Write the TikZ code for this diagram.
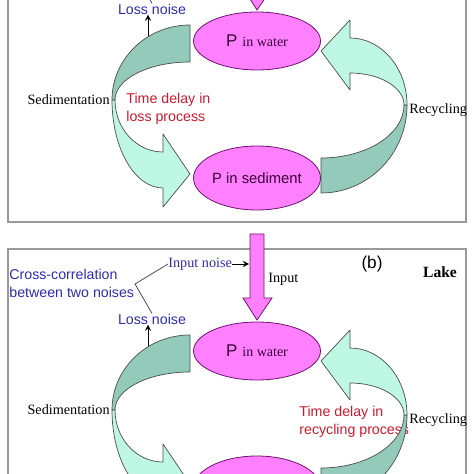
\documentclass[tikz,border=0pt]{standalone}
\usepackage{fontspec}
\setmainfont{Liberation Serif}
\setsansfont{Liberation Sans}
\usetikzlibrary{positioning,shapes.geometric}

\definecolor{pool}{RGB}{255,128,255}
\definecolor{poolline}{RGB}{110,20,110}
\definecolor{pooltext}{RGB}{55,0,55}
\definecolor{flowlight}{RGB}{190,247,228}
\definecolor{flowdark}{RGB}{148,202,186}
\definecolor{noiseblue}{RGB}{45,45,170}
\definecolor{delayred}{RGB}{205,25,45}

\begin{document}
\begin{tikzpicture}[x=0.5pt, y=-0.5pt,
					pool/.style={ellipse, draw=poolline, fill=pool, minimum width=63.5pt, inner sep=0pt, text=pooltext},
					flow/.style={draw=black!70, line width=0.35pt, line join=round},
					serif/.style={font=\fontsize{7.1}{8.5}\selectfont, inner sep=0pt},
					sans/.style={font=\sffamily\fontsize{7.1}{9}\selectfont, inner sep=0pt, align=left},
					frame/.style={draw=black!40, line width=0.8pt}
				]
				\useasboundingbox (0,0) rectangle (474,474);
				\clip (0,0) rectangle (474,474);
				% delay labels sit under the arrows
				\node[sans, text=delayred, anchor=west] (delayloss) at (126,109) {Time delay in\\loss process};
				\node[sans, text=delayred, anchor=west] (delayrecyc) at (299,422) {Time delay in\\recycling process};
				\foreach \dy in {0,310} {
				\begin{scope}[shift={(0,\dy)}]
				\draw[frame] (8,-61) rectangle (466,222);
				% input arrow
				\filldraw[draw=poolline, fill=pool, line width=0.4pt] (250,-76) -- (264,-76) -- (264,-12) -- (272,-12) -- (257,10) -- (243,-12) -- (250,-12) -- cycle;
				% pools
				\node[pool, minimum height=29pt] (water\dy) at (257,41) {{\sffamily\fontsize{8.5}{10}\selectfont P} {\fontsize{7}{8}\selectfont in water}};
				\node[pool, minimum height=32pt, font=\sffamily\fontsize{7.4}{9}\selectfont] (sediment\dy) at (257,178) {P in sediment};
				% sedimentation arrow
				\filldraw[flow, fill=flowdark] (190,25) arc[start angle=270, end angle=180, x radius=78, y radius=75] -- (115,100) arc[start angle=180, end angle=270, x radius=75, y radius=38] -- cycle;
				\filldraw[flow, fill=flowlight] (112,100) arc[start angle=180, end angle=90, x radius=51, y radius=88] -- (163,207) -- (190,174) -- (163,134) -- (163,152) arc[start angle=90, end angle=180, x radius=48, y radius=52] -- cycle;
				% recycling arrow
				\filldraw[flow, fill=flowdark] (321,193) arc[start angle=90, end angle=0, x radius=86, y radius=88] -- (404,105) arc[start angle=0, end angle=90, x radius=83, y radius=53] -- cycle;
				\filldraw[flow, fill=flowlight] (407,105) arc[start angle=0, end angle=-90, x radius=57, y radius=67] -- (350,20) -- (321,51) -- (350,90) -- (350,73) arc[start angle=-90, end angle=0, x radius=54, y radius=32] -- cycle;
				\node[serif, anchor=east] (sedim\dy) at (110,100) {Sedimentation};
				\node[serif, anchor=west] (recyc\dy) at (409,110) {Recycling};
				% loss noise
				\node[sans, text=noiseblue] (lossnoise\dy) at (152,9) {Loss noise};
				\coordinate (losstap\dy) at (148,36);
				\coordinate (bend\dy) at (135,-26);
				\draw[-stealth, line width=0.4pt] (losstap\dy) -- (losstap\dy |- lossnoise\dy.south);
				\draw[line width=0.4pt, black!70] (bend\dy) -- (lossnoise\dy.north);
				\end{scope}
				}
				% labels of panel (b)
				\node[serif, text=noiseblue, anchor=west] (inputnoise) at (168,264) {Input noise};
				\coordinate (shaft) at (249,264);
				\draw[-stealth, line width=0.4pt] (inputnoise.east) -- (shaft);
				\draw[line width=0.4pt, black!70] (inputnoise.west) -- (bend310);
				\node[serif, anchor=west] (input) at (268,279) {Input};
				\node[sans, font=\sffamily\fontsize{8.6}{10}\selectfont] (panelb) at (372,264) {(b)};
				\node[serif, font=\bfseries\fontsize{7.8}{9}\selectfont] (lake) at (440,272) {Lake};
				\node[sans, text=noiseblue, anchor=west] (crosscorr) at (9,283) {Cross-correlation\\between two noises};
				\end{tikzpicture}
\end{document}
